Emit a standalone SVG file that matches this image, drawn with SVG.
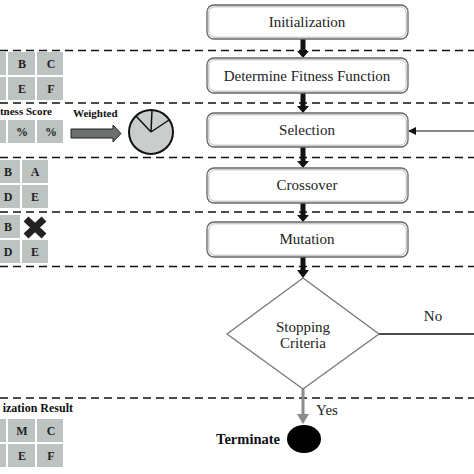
<svg xmlns="http://www.w3.org/2000/svg" width="474" height="474" viewBox="0 0 474 474">
<style>
.dash{stroke:#111;stroke-width:1.5;stroke-dasharray:8 5;fill:none}
.box{fill:#fff;stroke:#666;stroke-width:1.3}
.boxin{fill:none;stroke:#b5b5b5;stroke-width:1}
.lbl{font-family:"Liberation Serif","Times New Roman",serif;font-size:15px;fill:#222;text-anchor:middle}
.bold{font-family:"Liberation Serif","Times New Roman",serif;font-weight:bold;fill:#111}
.cell{fill:#bcc3c0}
.ct{font-family:"Liberation Serif","Times New Roman",serif;font-weight:bold;font-size:12px;fill:#222;text-anchor:middle}
</style>
<defs>
<marker id="ah" markerWidth="8" markerHeight="8" refX="7" refY="4" orient="auto" markerUnits="userSpaceOnUse">
<path d="M0,0 L8,4 L0,8 Z" fill="#111"/>
</marker>
</defs>
<rect width="474" height="474" fill="#fff"/>
<g id="dashes">
<line class="dash" x1="0" y1="50.5" x2="474" y2="50.5"/>
<line class="dash" x1="0" y1="103" x2="474" y2="103"/>
<line class="dash" x1="0" y1="157.5" x2="474" y2="157.5"/>
<line class="dash" x1="0" y1="212" x2="474" y2="212"/>
<line class="dash" x1="0" y1="266.5" x2="474" y2="266.5"/>
<line class="dash" x1="0" y1="398" x2="474" y2="398"/>
</g>
<g id="connectors">
<polygon points="300.5,39 305.5,39 305.5,51 309,51 303,58 297,51 300.5,51" fill="#111"/>
<polygon points="300.5,93 305.5,93 305.5,106 309,106 303,113 297,106 300.5,106" fill="#111"/>
<polygon points="300.5,147 305.5,147 305.5,161 309,161 303,168 297,161 300.5,161" fill="#111"/>
<polygon points="300.5,203 305.5,203 305.5,215 309,215 303,222 297,215 300.5,215" fill="#111"/>
<polygon points="300.5,257 305.5,257 305.5,270 309,270 303,278 297,270 300.5,270" fill="#111"/>
<polygon points="301.5,389 304.5,389 304.5,414 309,414 303,424 297,414 301.5,414" fill="#8a8d8b"/>
<line x1="379" y1="334" x2="474" y2="334" stroke="#111" stroke-width="1.5"/>
<line x1="474" y1="131" x2="409" y2="131" stroke="#111" stroke-width="1.2" marker-end="url(#ah)"/>
<text class="lbl" x="433" y="321">No</text>
<text class="lbl" x="327" y="415">Yes</text>
</g>
<g id="init">
<rect class="box" x="207" y="5" width="201" height="34" rx="7"/>
<rect class="boxin" x="208.8" y="6.8" width="197.4" height="30.4" rx="6"/>
<text class="lbl" x="307" y="27">Initialization</text>
</g>
<g id="fitness">
<rect class="box" x="207" y="58" width="201" height="35" rx="7"/>
<rect class="boxin" x="208.8" y="59.8" width="197.4" height="31.4" rx="6"/>
<text class="lbl" x="307" y="81">Determine Fitness Function</text>
</g>
<g id="selection">
<rect class="box" x="207" y="113" width="201" height="34" rx="7"/>
<rect class="boxin" x="208.8" y="114.8" width="197.4" height="30.4" rx="6"/>
<text class="lbl" x="307" y="135">Selection</text>
</g>
<g id="crossover">
<rect class="box" x="207" y="168" width="201" height="35" rx="7"/>
<rect class="boxin" x="208.8" y="169.8" width="197.4" height="31.4" rx="6"/>
<text class="lbl" x="307" y="190">Crossover</text>
</g>
<g id="mutation">
<rect class="box" x="207" y="222" width="201" height="35" rx="7"/>
<rect class="boxin" x="208.8" y="223.8" width="197.4" height="31.4" rx="6"/>
<text class="lbl" x="307" y="244">Mutation</text>
</g>
<g id="stopping">
<polygon points="303,278 379,334 303,389 227,334" fill="#fff" stroke="#777" stroke-width="1.3"/>
<text class="lbl" x="303" y="332">Stopping</text>
<text class="lbl" x="303" y="348">Criteria</text>
</g>
<g id="terminate">
<ellipse cx="304" cy="439" rx="17" ry="14" fill="#000"/>
<text class="bold" x="280" y="444" font-size="14.5" text-anchor="end">Terminate</text>
</g>
<g id="grid-init">
<rect class="cell" x="-20" y="52" width="26" height="23"/>
<rect class="cell" x="8" y="52" width="27" height="23"/>
<rect class="cell" x="37" y="52" width="26" height="23"/>
<rect class="cell" x="-20" y="77" width="26" height="23"/>
<rect class="cell" x="8" y="77" width="27" height="23"/>
<rect class="cell" x="37" y="77" width="26" height="23"/>
<text class="ct" x="22" y="68">B</text>
<text class="ct" x="51" y="68">C</text>
<text class="ct" x="22" y="93">E</text>
<text class="ct" x="51" y="93">F</text>
</g>
<g id="grid-score">
<text class="bold" x="52" y="115" font-size="11" text-anchor="end">tness Score</text>
<rect class="cell" x="-20" y="120" width="26" height="23"/>
<rect class="cell" x="8" y="120" width="27" height="23"/>
<rect class="cell" x="37" y="120" width="26" height="23"/>
<text class="ct" x="22" y="136">%</text>
<text class="ct" x="51" y="136">%</text>
</g>
<g id="weighted">
<text class="bold" x="73" y="117" font-size="11">Weighted</text>
<polygon points="71,129 113,129 113,125 121,133.5 113,142 113,138 71,138" fill="#6b6f6d" stroke="#222" stroke-width="1"/>
<circle cx="151" cy="132" r="22" fill="#c9cdcb" stroke="#111" stroke-width="2"/>
<path d="M151,132 L136,116 M151,132 L152,110 M151,132 L169,120" stroke="#111" stroke-width="1.5" fill="none"/>
</g>
<g id="grid-cross">
<rect class="cell" x="-7" y="160" width="27" height="23"/>
<rect class="cell" x="22" y="160" width="26" height="23"/>
<rect class="cell" x="-7" y="185" width="27" height="23"/>
<rect class="cell" x="22" y="185" width="26" height="23"/>
<text class="ct" x="8" y="176">B</text>
<text class="ct" x="35" y="176">A</text>
<text class="ct" x="8" y="201">D</text>
<text class="ct" x="35" y="201">E</text>
</g>
<g id="grid-mut">
<rect class="cell" x="-7" y="215" width="27" height="23"/>
<rect class="cell" x="-7" y="240" width="27" height="23"/>
<rect class="cell" x="22" y="240" width="26" height="23"/>
<text class="ct" x="8" y="231">B</text>
<text class="ct" x="8" y="256">D</text>
<text class="ct" x="35" y="256">E</text>
<path d="M26,219 L44,236 M44,219 L26,236" stroke="#222" stroke-width="7" fill="none"/>
</g>
<g id="grid-result">
<text class="bold" x="73" y="412" font-size="12" text-anchor="end">ization Result</text>
<rect class="cell" x="-20" y="419" width="26" height="23"/>
<rect class="cell" x="8" y="419" width="27" height="23"/>
<rect class="cell" x="37" y="419" width="26" height="23"/>
<rect class="cell" x="-20" y="444" width="26" height="23"/>
<rect class="cell" x="8" y="444" width="27" height="23"/>
<rect class="cell" x="37" y="444" width="26" height="23"/>
<text class="ct" x="22" y="435">M</text>
<text class="ct" x="51" y="435">C</text>
<text class="ct" x="22" y="460">E</text>
<text class="ct" x="51" y="460">F</text>
</g>
</svg>
